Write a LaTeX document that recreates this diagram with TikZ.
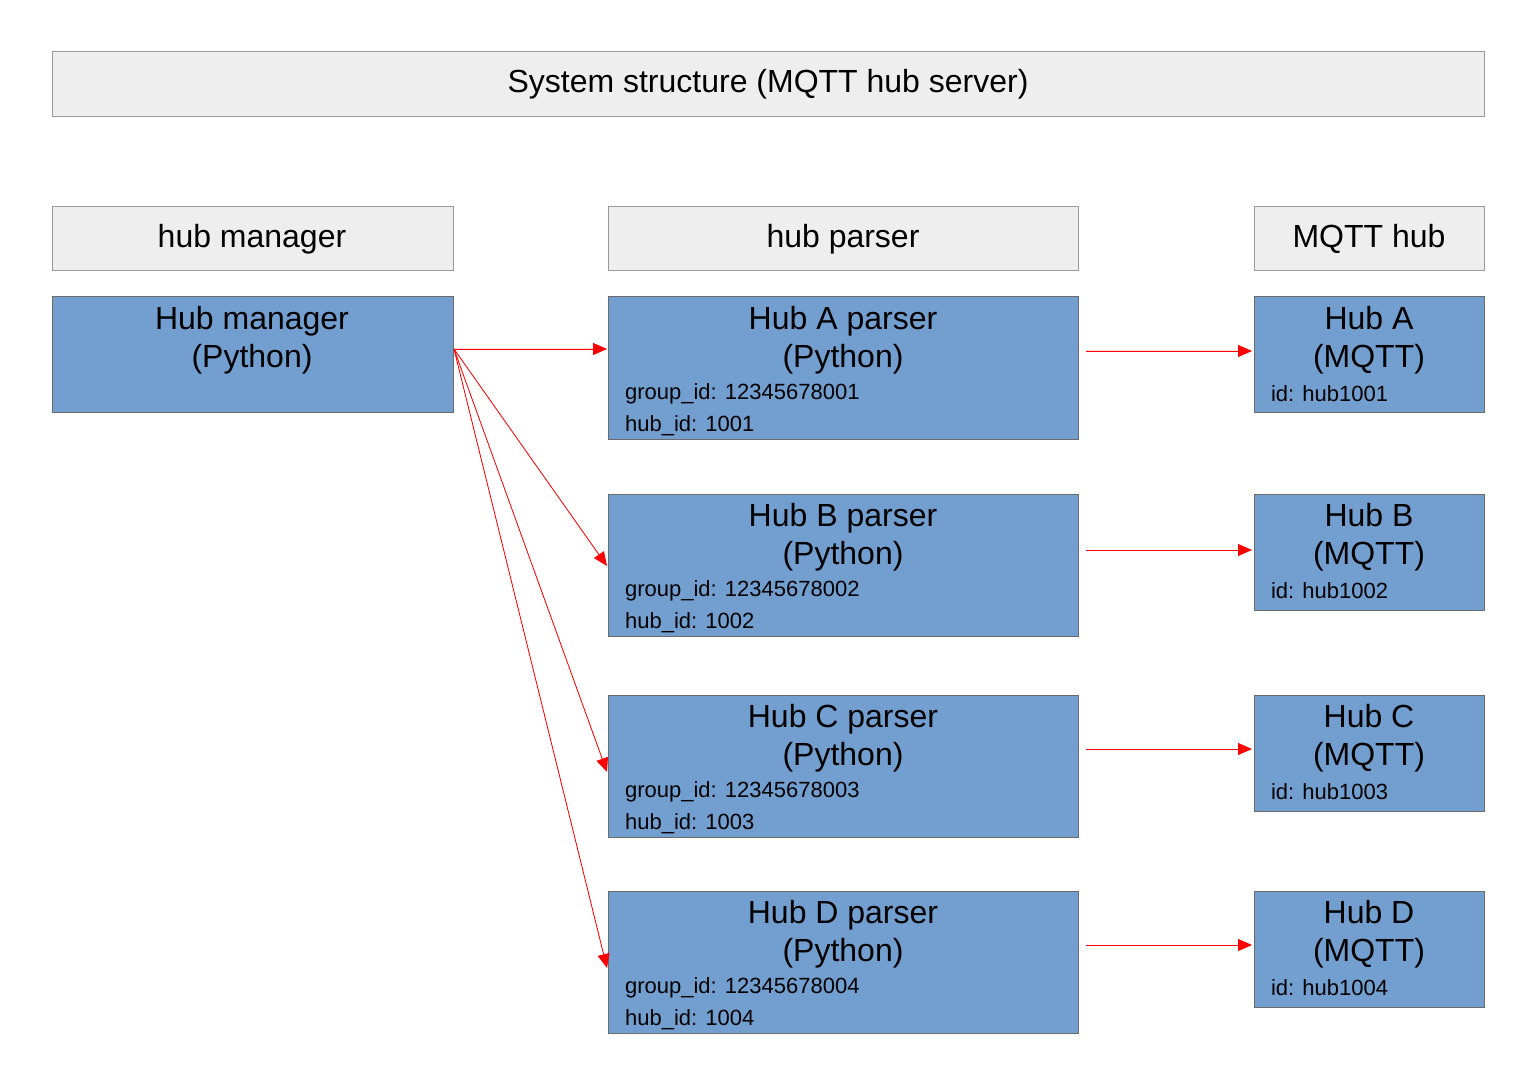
\documentclass[tikz,border=0pt]{standalone}
\usepackage{fontspec}
\setmainfont{Liberation Sans}
\usetikzlibrary{arrows.meta}
\definecolor{hdr}{HTML}{EEEEEE}
\definecolor{blu}{HTML}{729FCF}
\definecolor{edge}{HTML}{999999}
\begin{document}
\begin{tikzpicture}[x=0.5pt,y=-0.5pt,
  hbox/.style={draw=edge,fill=hdr,line width=0.5pt},
  bbox/.style={draw=edge!70!black,fill=blu,line width=0.5pt},
  big/.style={font=\fontsize{16}{19}\selectfont,align=center},
  small/.style={font=\fontsize{11}{13}\selectfont,anchor=west},
  arr/.style={draw=red,line width=0.4pt,-{Triangle[length=7pt,width=6pt]},fill=red}]
\useasboundingbox (0,0) rectangle (1536,1085);
\draw[hbox] (52,52) rectangle (1484,117);
\node[big] (title) at (768,84) {System structure (MQTT hub server)};
\draw[hbox] (52,207) rectangle (453,271);
\node[big] (h1) at (252,239) {hub manager};
\draw[hbox] (608,207) rectangle (1078,271);
\node[big] (h2) at (843,239) {hub parser};
\draw[hbox] (1254,207) rectangle (1484,271);
\node[big] (h3) at (1369,239) {MQTT hub};
\draw[bbox] (52,297) rectangle (453,413);
\node[big] (mgr) at (252,340) {Hub manager\\(Python)};
\coordinate (m) at (454,349);
\foreach \L/\y/\n [count=\i] in {A/297/1,B/494/2,C/695/3,D/891/4}{
  \draw[bbox] (608,\y) rectangle (1078,\y+142);
  \node[big] (p\L) at (843,\y+43) {Hub \L\ parser\\(Python)};
  \node[small] (g\L) at (618,\y+97) {group\_id: 1234567800\n};
  \node[small] (i\L) at (618,\y+129) {hub\_id: 100\n};
  \draw[bbox] (1254,\y) rectangle (1484,\y+116);
  \node[big] (q\L) at (1369,\y+43) {Hub \L\\(MQTT)};
  \node[small] (d\L) at (1264,\y+97) {id: hub100\n};
}
\coordinate (tA) at (607,349); \coordinate (tB) at (607,566);
\coordinate (tC) at (607,772); \coordinate (tD) at (607,968);
\foreach \L in {A,B,C,D} \draw[arr] (m) -- (t\L);
\foreach \L/\y in {A/351,B/550,C/749,D/945}{
  \coordinate (s\L) at (1086,\y); \coordinate (e\L) at (1252,\y);
  \draw[arr] (s\L) -- (e\L);}
\end{tikzpicture}
\end{document}
